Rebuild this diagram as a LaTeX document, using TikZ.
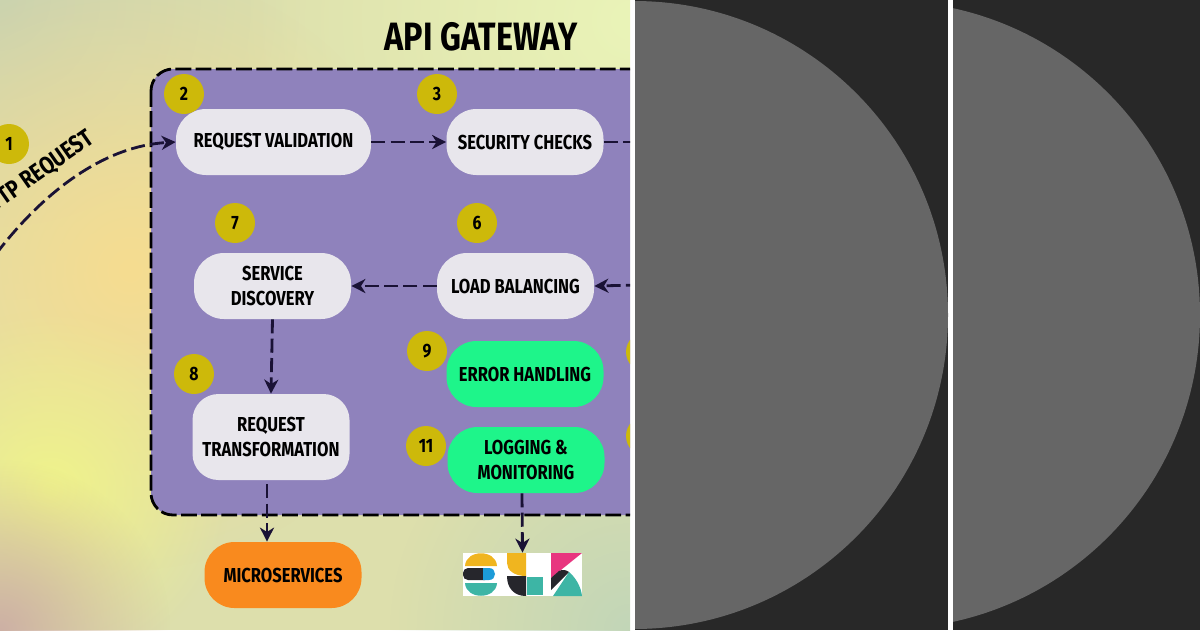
\documentclass[tikz,border=0pt]{standalone}
\usepackage{fontspec}
\setmainfont{Fira Sans}[FakeStretch=0.82]
\usetikzlibrary{positioning, arrows.meta, fadings}
\definecolor{gatepurple}{HTML}{8F82BC}
\definecolor{gategold}{HTML}{CDB90A}
\definecolor{gatelight}{HTML}{E8E6EC}
\definecolor{gategreen}{HTML}{1EF58A}
\definecolor{gateorange}{HTML}{F98A1E}
\definecolor{gateink}{HTML}{1A1235}
\definecolor{paneldark}{HTML}{282828}
\definecolor{panelgray}{HTML}{666666}
\definecolor{elkyellow}{HTML}{F0B51F}
\definecolor{elkdark}{HTML}{26262C}
\definecolor{elkteal}{HTML}{3DB5A5}
\definecolor{elkblue}{HTML}{1C9BD8}
\definecolor{elkpink}{HTML}{E8357F}
\definecolor{bgbase}{HTML}{DDDFAC}
\definecolor{bgtopleft}{HTML}{CBD3B0}
\definecolor{bgtopright}{HTML}{EAF4B8}
\definecolor{bgpeach}{HTML}{F6DC90}
\definecolor{bglime}{HTML}{F0F48A}
\definecolor{bgrose}{HTML}{CDB0A4}
\definecolor{bgsage}{HTML}{C2D6B8}
\tikzfading[name=softspot, inner color=transparent!0, outer color=transparent!100]

\begin{document}
\begin{tikzpicture}[x=0.02cm, y=-0.02cm,
        stepbox/.style={rounded corners=30*0.02cm, minimum width=157*0.02cm, minimum height=66*0.02cm, align=center, font=\bfseries\fontsize{11.5}{14.3}\selectfont, inner sep=0pt},
        whitebox/.style={stepbox, fill=gatelight},
        greenbox/.style={stepbox, fill=gategreen},
        badge/.style={circle, fill=gategold, minimum size=40*0.02cm, inner sep=0pt, font=\bfseries\fontsize{11}{13}\selectfont},
        flow/.style={draw=gateink, line width=1.6pt, dash pattern=on 8pt off 3pt, -{Stealth[length=8pt, width=8pt, inset=2.5pt]}},
        spot/.style={path fading=softspot}
    ]
      \useasboundingbox (0,0) rectangle (1200,630);
      % Right side panels
      \fill[white] (0,0) rectangle (1200,630);
      \fill[paneldark] (635,0) rectangle (948,630);
      \fill[paneldark] (953,0) rectangle (1200,630);
      \begin{scope}
        \clip (635,0) rectangle (948,630);
        \fill[panelgray] (634,315) circle (314*0.02cm);
      \end{scope}
      \begin{scope}
        \clip (953,0) rectangle (1200,630);
        \fill[panelgray] (886,315) circle (314*0.02cm);
      \end{scope}
      % Left panel and everything on it
      \begin{scope}
        \clip (0,0) rectangle (630,630);
        \fill[bgbase] (0,0) rectangle (630,630);
        \fill[spot, bgtopleft] (0,0) circle (300*0.02cm);
        \fill[spot, bgtopright] (630,20) circle (400*0.02cm);
        \fill[spot, bgpeach] (130,270) circle (300*0.02cm);
        \fill[spot, bglime] (50,490) circle (180*0.02cm);
        \fill[spot, bgrose] (0,630) circle (170*0.02cm);
        \fill[spot, bgsage] (630,630) circle (240*0.02cm);
        % Gateway box
        \draw[fill=gatepurple, line width=1.6pt, dash pattern=on 9pt off 2.5pt, rounded corners=22*0.02cm] (151,69) rectangle (700,515);
        \node[font=\bfseries\fontsize{22.5}{26}\selectfont] (gatetitle) at (481,37) {API GATEWAY};
        % Steps
        \node[whitebox, minimum width=195*0.02cm] (reqval) at (273.5,142) {REQUEST VALIDATION};
        \node[whitebox] (seccheck) at (525,142) {SECURITY CHECKS};
        \node[whitebox] (loadbal) at (515.5,286) {LOAD BALANCING};
        \node[whitebox] (servdisc) at (272.5,286) {SERVICE\\DISCOVERY};
        \node[whitebox, minimum height=86*0.02cm, rounded corners=26*0.02cm] (reqtrans) at (271,437) {REQUEST\\TRANSFORMATION};
        \node[greenbox] (errhandle) at (525,374) {ERROR HANDLING};
        \node[greenbox] (logging) at (526,460) {LOGGING \&\\MONITORING};
        \node[stepbox, fill=gateorange] (micro) at (283,575) {MICROSERVICES};
        % Numbers
        \node[badge] (num1) at (9,144) {1};
        \node[badge] (num2) at (184,94) {2};
        \node[badge] (num3) at (437,94) {3};
        \node[badge] (num6) at (477,223) {6};
        \node[badge] (num7) at (235,223) {7};
        \node[badge] (num8) at (194,374) {8};
        \node[badge] (num9) at (427,351) {9};
        \node[badge] (num11) at (426,446) {11};
        \node[badge] (numa) at (646,352) {};
        \node[badge] (numb) at (646,436) {};
        % ELK logo
        \node[fill=white, minimum width=119*0.02cm, minimum height=43*0.02cm, inner sep=0pt] (elk) at (522.5,574.5) {};
        \fill[elkyellow] (465,566) .. controls (466,549) and (496,549) .. (497,566) -- cycle;
        \fill[elkdark, rounded corners=5*0.02cm] (463,568) rectangle (490,580);
        \fill[elkblue] (483,568) -- (489,568) .. controls (497,568) and (497,580) .. (489,580) -- (483,580) -- cycle;
        \fill[elkteal] (465,583) .. controls (466,600) and (496,600) .. (497,583) -- cycle;
        \fill[elkyellow] (507,553) -- (526,553) -- (526,576) .. controls (514,576) and (507,570) .. (507,563) -- cycle;
        \fill[elkdark] (507,576) -- (526,576) -- (526,596) .. controls (514,596) and (507,588) .. (507,576) -- cycle;
        \fill[elkteal] (527,577) rectangle (543,595);
        \fill[elkpink] (551,553) -- (582,553) -- (551,578) -- cycle;
        \fill[elkdark] (551,578) -- (559,571) .. controls (563,569) and (566,570) .. (569,572) -- (551,590) -- cycle;
        \fill[elkteal] (553,596) -- (582,596) .. controls (581,586) and (575,577) .. (569,572) -- cycle;
        % Connectors
        \coordinate (clientend) at (-4,254);
        \coordinate (secright) at (640,142);
        \coordinate (loadright) at (640,285);
        \draw[flow] (clientend) .. controls (45,190) and (105,146) .. (reqval.west);
        \draw[flow] (reqval.east) -- (seccheck.west);
        \draw[flow, -] (seccheck.east) -- (secright);
        \draw[flow] (loadright) -- (loadbal.east);
        \draw[flow] (loadbal.west) -- (servdisc.east);
        \draw[flow] (servdisc.south) -- (reqtrans.north);
        \draw[flow] ([xshift=-4*0.02cm, yshift=-4*0.02cm]reqtrans.south) -- ([xshift=-16*0.02cm]micro.north);
        \draw[flow] ([xshift=-4*0.02cm]logging.south) -- (elk.north);
        \node[rotate=35, font=\bfseries\fontsize{14}{16}\selectfont] (httpreq) at (36,175) {HTTP REQUEST};
      \end{scope}
    \end{tikzpicture}
\end{document}
